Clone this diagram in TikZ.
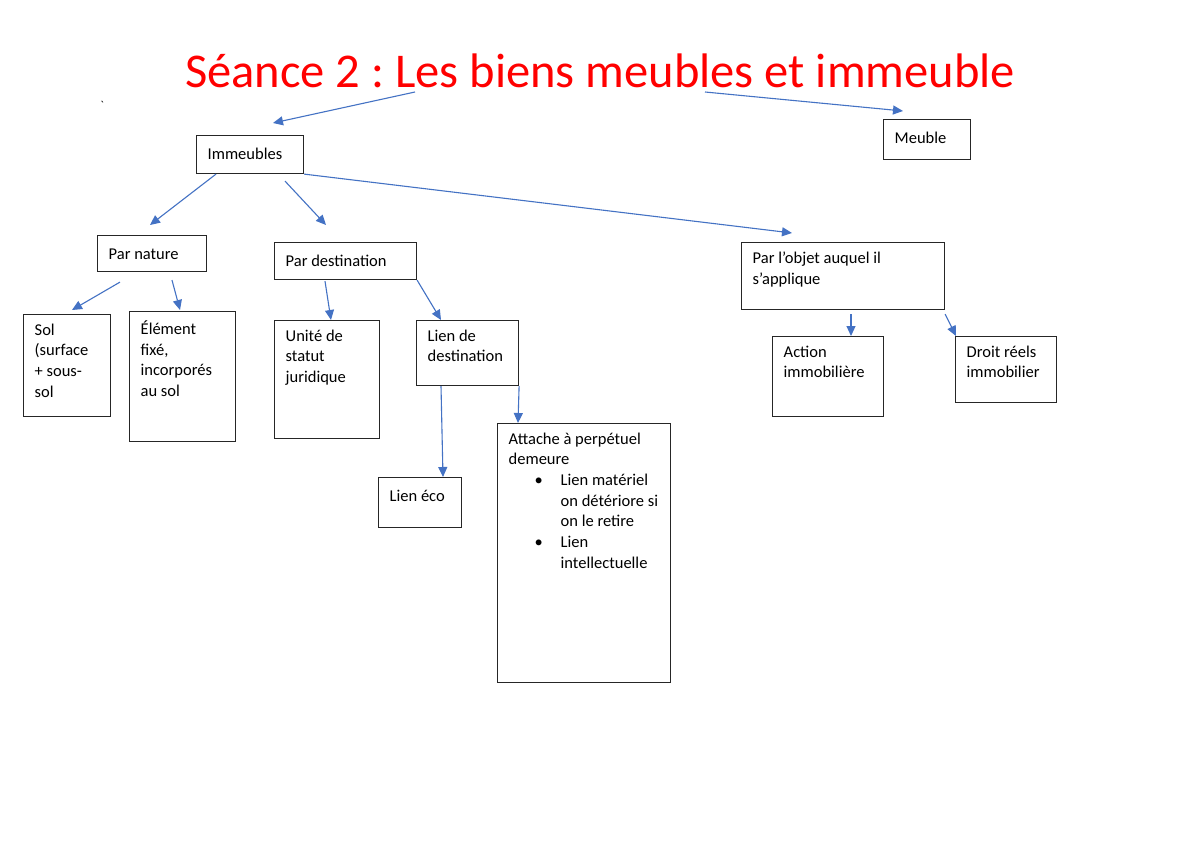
\documentclass[tikz,border=0pt]{standalone}
\usepackage{fontspec}
\setmainfont{Carlito}
\usetikzlibrary{arrows.meta}
\frenchspacing
\definecolor{linkblue}{HTML}{4472C4}
\definecolor{titlered}{HTML}{FF0000}
\newcommand{\boxfont}{\fontsize{16.5}{20.7}\selectfont}
\newcommand{\itemdot}{\makebox[52pt][l]{\hspace*{26pt}\textbullet}}
\tikzset{
  box/.style={draw=black!85, line width=1.1pt, anchor=north west, inner sep=0pt},
  lbl/.style={anchor=north west, align=left, inner sep=0pt, xshift=11.5pt, yshift=-9.5pt,
    font=\boxfont, execute at begin node=\strut},
  link/.style={draw=linkblue, line width=1.1pt, -{Triangle[length=10pt,width=9pt]}},
}
\begin{document}
\begin{tikzpicture}[x=1pt, y=-1pt]
    \fill[white] (0,0) rectangle (1200,848);
    \useasboundingbox (0,0) rectangle (1200,848);
    % title
    \node[anchor=base, text=titlered, inner sep=0pt, font=\fontsize{48.5}{58}\selectfont] (title) at (600,88) {Séance 2 : Les biens meubles et immeuble};
    \node[inner sep=0pt, font=\fontsize{12}{14}\selectfont] (tick) at (102,105) {\textasciigrave};
    % first level
    \node[box, minimum width=107pt, minimum height=38pt, label={[lbl]north west:Immeubles}] (imm) at (196,135) {};
    \node[box, minimum width=87pt, minimum height=40pt, label={[lbl]north west:Meuble}] (meu) at (883,119) {};
    % second level
    \node[box, minimum width=109pt, minimum height=36pt, label={[lbl]north west:Par nature}] (nat) at (97,235) {};
    \node[box, minimum width=142pt, minimum height=37pt, label={[lbl]north west:Par destination}] (dest) at (274,242) {};
    \node[box, minimum width=203pt, minimum height=67pt, label={[lbl]north west:{Par l’objet auquel il\\s’applique}}] (obj) at (741,242) {};
    % third level
    \node[box, minimum width=87pt, minimum height=102pt, label={[lbl]north west:{Sol\\(surface\\+ sous-\\sol}}] (sol) at (23,314) {};
    \node[box, minimum width=106pt, minimum height=130pt, label={[lbl]north west:{Élément\\fixé,\\incorporés\\au sol}}] (elem) at (129,311) {};
    \node[box, minimum width=105pt, minimum height=118pt, label={[lbl]north west:{Unité de\\statut\\juridique}}] (unite) at (274,320) {};
    \node[box, minimum width=102pt, minimum height=65pt, label={[lbl]north west:{Lien de\\destination}}] (liend) at (416,320) {};
    \node[box, minimum width=111pt, minimum height=80pt, label={[lbl]north west:{Action\\immobilière}}] (act) at (772,336) {};
    \node[box, minimum width=101pt, minimum height=66pt, label={[lbl]north west:{Droit réels\\immobilier}}] (droit) at (955,336) {};
    % fourth level
    \node[box, minimum width=83pt, minimum height=50pt, label={[lbl]north west:Lien éco}] (eco) at (378,477) {};
    \node[box, minimum width=173pt, minimum height=259pt, label={[lbl]north west:{Attache à perpétuel\\demeure\\\itemdot Lien matériel\\\hspace*{52pt}on détériore si\\\hspace*{52pt}on le retire\\\itemdot Lien\\\hspace*{52pt}intellectuelle}}] (att) at (497,423) {};
    % links
    \foreach \s/\sx/\sy/\e/\ex/\ey in {
        title.base/-185/4/imm.north west/77/-12,
        title.base/105/4/meu.north west/20/-8,
        imm.south west/20/0/nat.north west/53/-10,
        imm.south west/89/7/dest.north west/52/-17,
        imm.south east/0/0/obj.north west/51/-9,
        nat.south west/23/10/sol.north west/49/-4,
        nat.south west/75/8/elem.north west/51/-1,
        dest.south west/51/1/unite.north west/57/0,
        dest.south east/0/0/liend.north west/25/0,
        liend.south west/25/0/eco.north west/65/0,
        liend.south east/0/0/att.north west/21/0,
        obj.south west/110/4/act.north west/79/0,
        obj.south east/0/4/droit.north west/1/0} {
        \draw[link] ([shift={(\sx,\sy)}]\s) -- ([shift={(\ex,\ey)}]\e);
    }
\end{tikzpicture}
\end{document}
